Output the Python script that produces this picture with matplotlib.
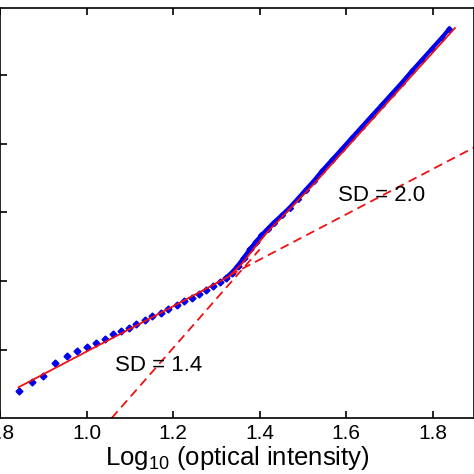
import numpy as np
import matplotlib.pyplot as plt

plt.rcParams['font.family'] = 'Liberation Sans'
plt.rcParams['mathtext.default'] = 'regular'

# blue data (quantiles)
data_x = [0.843, 0.873, 0.900, 0.928, 0.954, 0.977, 1.000, 1.021, 1.042, 1.060,
          1.079, 1.097, 1.115, 1.134, 1.152, 1.171, 1.189, 1.208, 1.226, 1.243,
          1.259, 1.275, 1.291, 1.308, 1.321, 1.335, 1.349, 1.363, 1.377, 1.391,
          1.404, 1.418, 1.432, 1.451, 1.469, 1.488, 1.506, 1.525, 1.543, 1.566,
          1.589, 1.613, 1.636, 1.659, 1.682, 1.705, 1.728, 1.751, 1.774, 1.798,
          1.821, 1.837]
data_y = [0.39, 0.53, 0.61, 0.80, 0.91, 0.98, 1.04, 1.10, 1.16, 1.22,
          1.27, 1.32, 1.37, 1.43, 1.49, 1.53, 1.59, 1.65, 1.71, 1.75,
          1.81, 1.87, 1.93, 1.99, 2.04, 2.12, 2.22, 2.34, 2.46, 2.57,
          2.67, 2.76, 2.85, 2.96, 3.07, 3.20, 3.33, 3.46, 3.60, 3.76,
          3.92, 4.09, 4.25, 4.41, 4.57, 4.73, 4.89, 5.06, 5.22, 5.39,
          5.55, 5.67]

# fitted mixture (solid red)
fit_x = [0.843, 1.0, 1.2, 1.33, 1.36, 1.39, 1.42, 1.45, 1.48, 1.52, 1.851]
fit_y = [0.45, 0.97, 1.63, 2.07, 2.26, 2.50, 2.73, 2.92, 3.12, 3.38, 5.69]

# component lines (dashed red)
low_x = [1.33, 1.899]
low_y = [2.08, 3.96]
high_x = [1.058, 1.40]
high_y = [0.0, 2.46]

fig = plt.figure(figsize=(4.74, 4.74), dpi=100)
ax = fig.add_axes([0.0, 0.118, 1.0, 0.865])

ax.plot(data_x[:30], data_y[:30], color='#0000ee', marker='D', markersize=3.5, lw=0, ls='')
ax.plot(data_x[24:], data_y[24:], color='#0000ee', marker='D', markersize=3, lw=3)
ax.plot(fit_x, fit_y, color='#ee1111', lw=1.3)
ax.plot(low_x, low_y, color='#ee1111', lw=1.3, ls=(0, (5, 3)))
ax.plot(high_x, high_y, color='#ee1111', lw=1.3, ls=(0, (5, 3)))

ax.text(1.682, 3.24, 'SD = 2.0', fontsize=16, ha='center', va='center')
ax.text(1.166, 0.76, 'SD = 1.4', fontsize=16, ha='center', va='center')

ax.set_xlim(0.8, 1.895)
ax.set_ylim(0, 5.98)
ax.set_xticks([0.8, 1.0, 1.2, 1.4, 1.6, 1.8])
ax.set_xticklabels(['0.8', '1.0', '1.2', '1.4', '1.6', '1.8'])
ax.set_yticks([1, 2, 3, 4, 5])
ax.tick_params(direction='in', length=5, width=1.2, top=True, labelleft=False, labelsize=15, pad=4)
for s in ax.spines.values():
    s.set_linewidth(1.2)
ax.set_xlabel('Log$_{10}$ (optical intensity)', fontsize=18.5, labelpad=1)

fig.savefig('out.png', dpi=100)
